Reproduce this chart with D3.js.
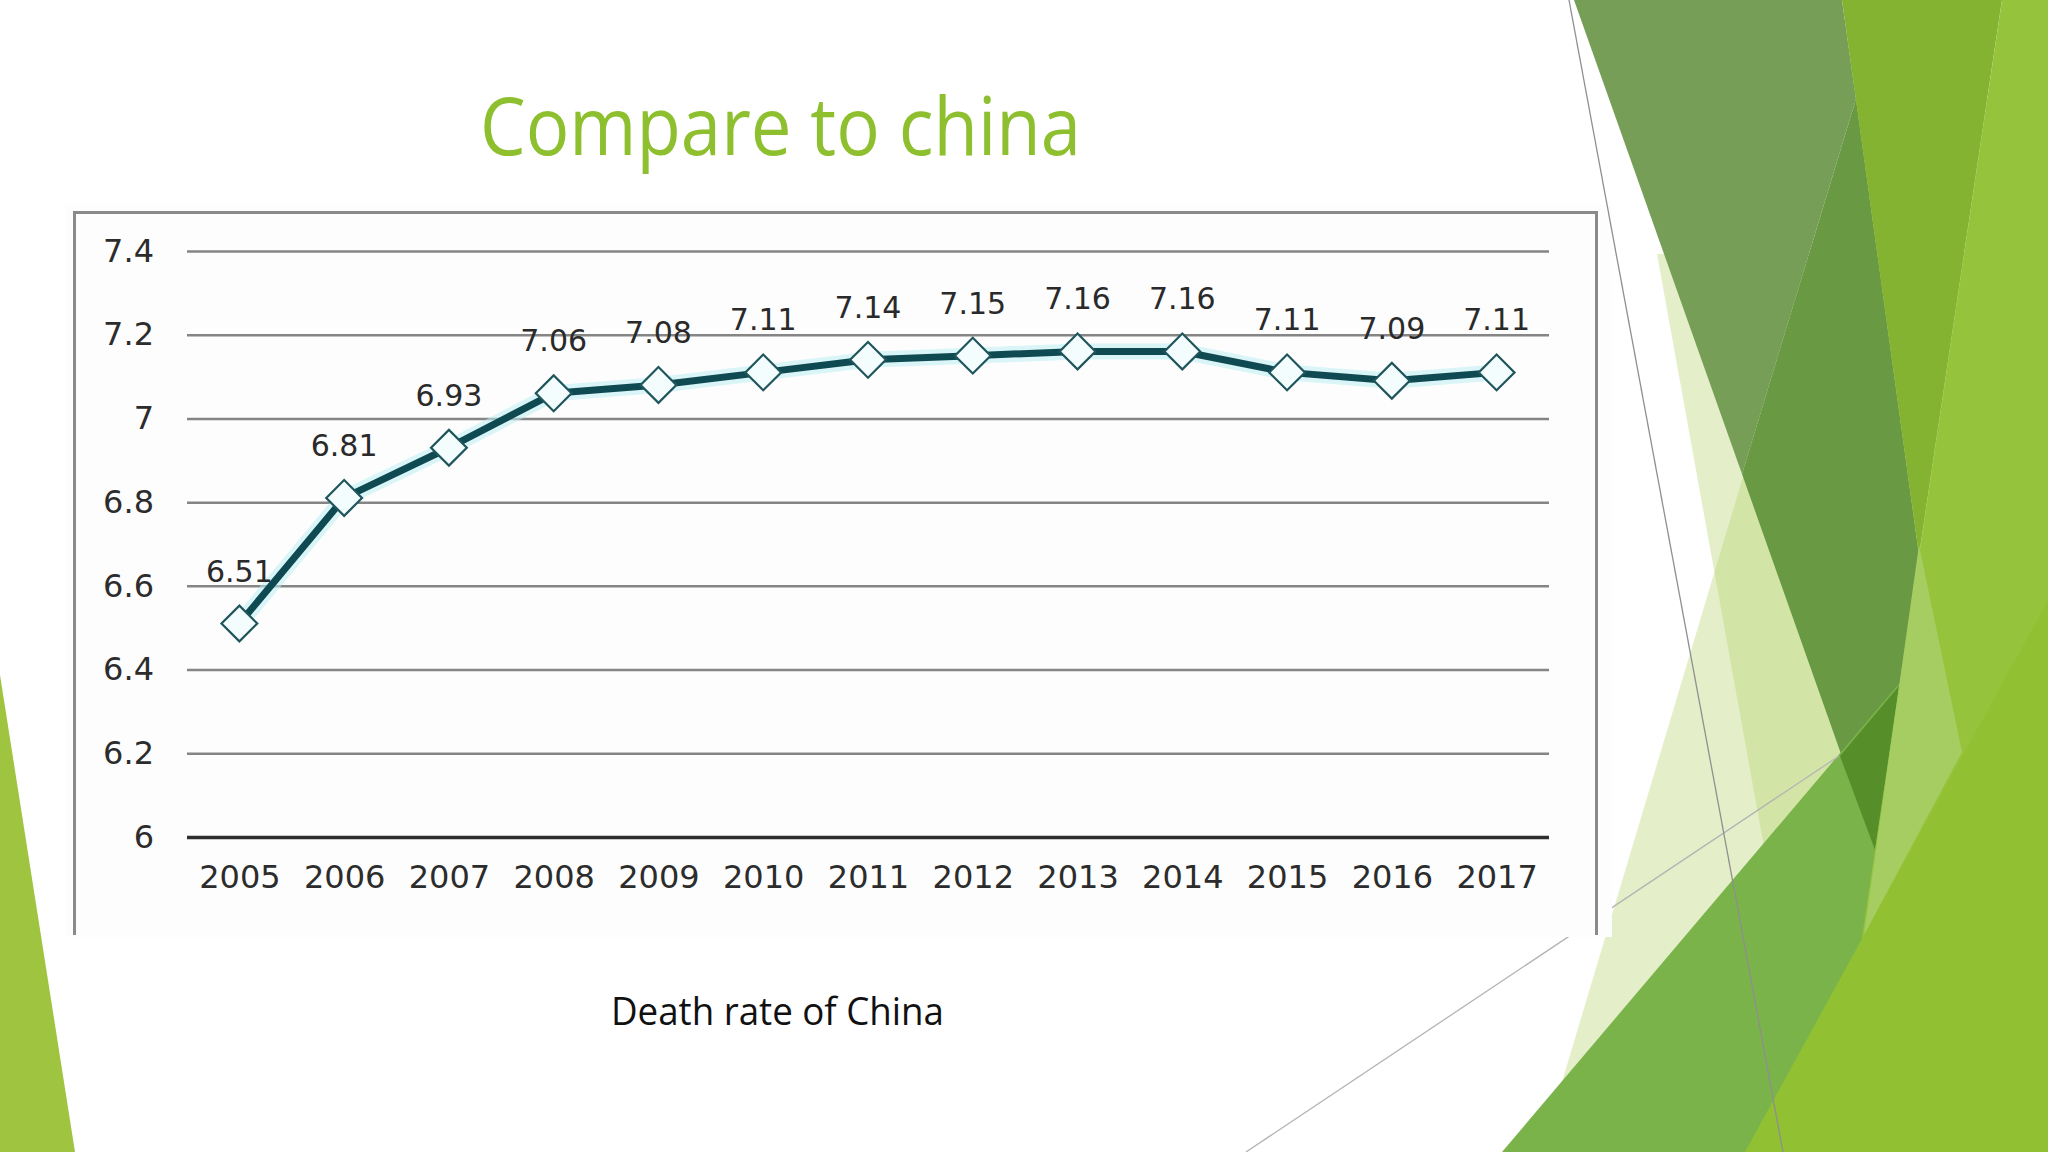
<!DOCTYPE html>
<html>
<head>
<meta charset="utf-8">
<script src="https://cdn.jsdelivr.net/npm/d3@7"></script>
<style>
    body { margin: 0; background: #ffffff; }
    svg { display: block; }
</style>
</head>
<body>
<script>
// chart values
const years = ["2005", "2006", "2007", "2008", "2009", "2010", "2011", "2012", "2013", "2014", "2015", "2016", "2017"]
const deathRate = [6.51, 6.81, 6.93, 7.06, 7.08, 7.11, 7.14, 7.15, 7.16, 7.16, 7.11, 7.09, 7.11]
const yTicks = [6, 6.2, 6.4, 6.6, 6.8, 7, 7.2, 7.4]
const yTickLabels = ["6", "6.2", "6.4", "6.6", "6.8", "7", "7.2", "7.4"]

const titleText = "Compare to china"
const captionText = "Death rate of China"

// slide decoration (facet style triangles)
const decor = [
    { pts: [[0, 675], [0, 1152], [75, 1152]], fill: "#9fc540", op: 1 },
    { pts: [[1657, 254], [1819, 1152], [2048, 1152], [2048, 254]], fill: "#b3d26a", op: 0.36 },
    { pts: [[1856, 99], [1541, 1152], [2048, 1152], [2048, 99]], fill: "#b3d26a", op: 0.36 },
    { pts: [[1574, 0], [1842, 0], [1856, 99], [1742, 474]], fill: "#779e57", op: 1 },
    { pts: [[1856, 99], [1919, 555], [1875, 850], [1742, 474]], fill: "#6a9944", op: 1 },
    { pts: [[1502, 1152], [1897, 686], [2048, 560], [2048, 1152]], fill: "#7ab34a", op: 1 },
    { pts: [[1840, 756], [1899, 686], [1875, 850]], fill: "#568e29", op: 1 },
    { pts: [[1842, 0], [2002, 0], [1919, 555]], fill: "#84b332", op: 1 },
    { pts: [[2002, 0], [2048, 0], [2048, 1152], [1830, 1152]], fill: "#95c43c", op: 1 },
    { pts: [[1919, 545], [1962, 752], [1864, 935]], fill: "#a5cd62", op: 1 },
    { pts: [[1745, 1152], [2048, 600], [2048, 1152]], fill: "#91c133", op: 1 }
]

const W = 2048, H = 1152

let svg = d3.select("body")
    .append("svg")
    .attr("width", W)
    .attr("height", H)

svg.append("rect")
    .attr("width", W)
    .attr("height", H)
    .attr("fill", "#ffffff")

// background shapes
svg.selectAll(".decor")
    .data(decor)
    .join("polygon")
    .attr("class", "decor")
    .attr("points", d => d.pts.map(p => p.join(",")).join(" "))
    .attr("fill", d => d.fill)
    .attr("fill-opacity", d => d.op)

// thin line that goes under the chart picture
svg.append("line")
    .attr("x1", 1246).attr("y1", 1152)
    .attr("x2", 1839).attr("y2", 756)
    .attr("stroke", "#b4b4b4")
    .attr("stroke-width", 1.3)

// chart picture area
svg.append("rect")
    .attr("x", 66)
    .attr("y", 205)
    .attr("width", 1546)
    .attr("height", 732)
    .attr("fill", "#fdfdfd")

svg.append("line")
    .attr("x1", 1569).attr("y1", 0)
    .attr("x2", 1783).attr("y2", 1152)
    .attr("stroke", "#8f8f8f")
    .attr("stroke-width", 1.3)

// frame of the picture (bottom is cut off)
svg.append("path")
    .attr("d", "M74.5,935 V212.5 H1596.5 V935")
    .attr("fill", "none")
    .attr("stroke", "#8a8a8a")
    .attr("stroke-width", 3)

// title
svg.append("text")
    .attr("x", 480)
    .attr("y", 155)
    .attr("textLength", 601)
    .attr("lengthAdjust", "spacingAndGlyphs")
    .style("font-family", "'Open Sans', sans-serif")
    .style("font-size", "80px")
    .attr("fill", "#8dbf2f")
    .text(titleText)

// caption
svg.append("text")
    .attr("x", 611)
    .attr("y", 1025)
    .attr("textLength", 333)
    .attr("lengthAdjust", "spacingAndGlyphs")
    .style("font-family", "'Open Sans', sans-serif")
    .style("font-size", "38px")
    .attr("fill", "#111111")
    .text(captionText)

// scales
const plotLeft = 187, plotRight = 1549

let x = d3.scalePoint()
    .domain(years)
    .range([plotLeft, plotRight])
    .padding(0.5)

let y = d3.scaleLinear()
    .domain([6, 7.4])
    .range([837, 251])

// Y axis with gridlines
let yAxis = svg.append("g")
    .attr("transform", `translate(${plotLeft},0)`)
    .call(d3.axisLeft(y)
        .tickValues(yTicks)
        .tickFormat((d, i) => yTickLabels[i])
        .tickSizeInner(-(plotRight - plotLeft))
        .tickSizeOuter(0)
        .tickPadding(33))

yAxis.select(".domain").remove()
yAxis.selectAll(".tick line")
    .attr("stroke", d => d === 6 ? "#2e2e2e" : "#858585")
    .attr("stroke-width", d => d === 6 ? 3.5 : 2.5)
yAxis.selectAll(".tick text")
    .style("font-family", "'DejaVu Sans', sans-serif")
    .style("font-size", "32px")
    .attr("fill", "#2c2c2c")

// X axis labels
let xAxis = svg.append("g")
    .attr("transform", `translate(0,${y(6)})`)
    .call(d3.axisBottom(x).tickSize(0).tickPadding(28))

xAxis.select(".domain").remove()
xAxis.selectAll(".tick text")
    .style("font-family", "'DejaVu Sans', sans-serif")
    .style("font-size", "32px")
    .attr("fill", "#2c2c2c")

// the line
const data = years.map((yr, i) => ({ year: yr, value: deathRate[i] }))

let line = d3.line()
    .x(d => x(d.year))
    .y(d => y(d.value))

svg.append("path")
    .datum(data)
    .attr("d", line)
    .attr("fill", "none")
    .attr("stroke", "#bdeef2")
    .attr("stroke-opacity", 0.55)
    .attr("stroke-width", 16)
    .attr("stroke-linejoin", "round")

svg.append("path")
    .datum(data)
    .attr("d", line)
    .attr("fill", "none")
    .attr("stroke", "#0f4a52")
    .attr("stroke-width", 7)
    .attr("stroke-linejoin", "round")

// diamond markers
svg.selectAll(".marker")
    .data(data)
    .join("path")
    .attr("class", "marker")
    .attr("d", d3.symbol().type(d3.symbolSquare).size(640))
    .attr("transform", d => `translate(${x(d.year)},${y(d.value)}) rotate(45)`)
    .attr("fill", "#f3fdfe")
    .attr("stroke", "#1f555c")
    .attr("stroke-width", 2.2)

// data labels
svg.selectAll(".dlabel")
    .data(data)
    .join("text")
    .attr("class", "dlabel")
    .attr("x", d => x(d.year))
    .attr("y", d => y(d.value) - 42)
    .attr("text-anchor", "middle")
    .style("font-family", "'DejaVu Sans', sans-serif")
    .style("font-size", "30px")
    .attr("fill", "#2a2a2a")
    .text(d => d.value.toFixed(2))
</script>
</body>
</html>
